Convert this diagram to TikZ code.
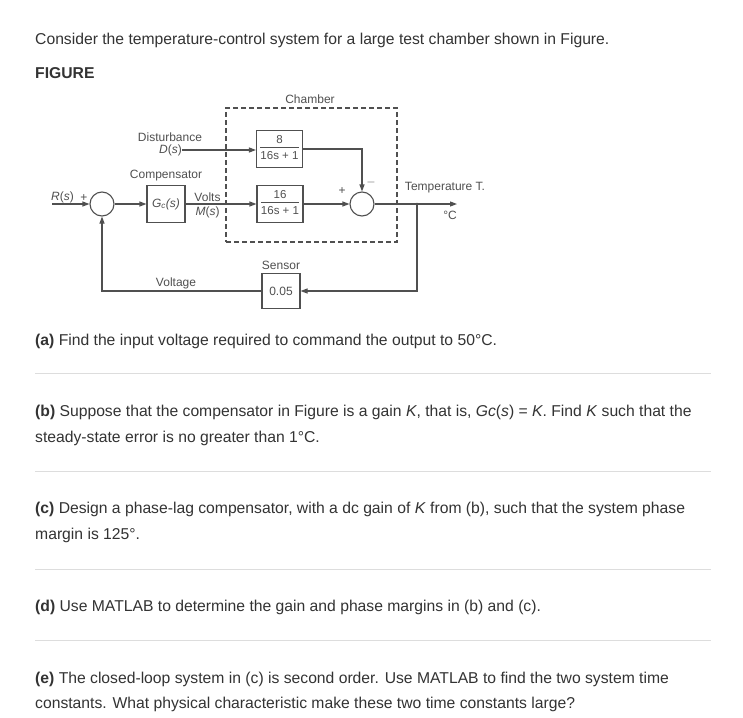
\documentclass[tikz,border=0pt]{standalone}
\usepackage{fontspec}
\setmainfont{Liberation Sans}
\usetikzlibrary{arrows.meta}
\definecolor{txt}{HTML}{333333}
\definecolor{dg}{HTML}{505050}
\definecolor{sepc}{HTML}{DDDDDD}
\begin{document}
\begin{tikzpicture}[x=1pt,y=-1pt,
  body/.style={anchor=base west, inner sep=0, font=\fontsize{15.7}{18}\selectfont, text=txt},
  lbl/.style={inner sep=0, font=\fontsize{12}{14}\selectfont, text=dg},
  blk/.style={draw=dg, line width=1.1pt, minimum width=46pt, minimum height=37pt, inner sep=0, font=\fontsize{11.5}{13}\selectfont, text=dg},
  sj/.style={circle, draw=dg, line width=1.1pt, minimum size=24pt, inner sep=0},
  sig/.style={draw=dg, line width=1.1pt},
  arr/.style={sig, -{Triangle[length=7pt,width=5pt]}},
  sepline/.style={draw=sepc, line width=1pt},
  chbox/.style={draw=dg, line width=1.1pt, dash pattern=on 5pt off 3pt}
]
\useasboundingbox (0,0) rectangle (743,717);
\fill[white] (0,0) rectangle (743,717);

% ---- text ----
\node[body] (t1) at (35,45) {Consider the temperature-control system for a large test chamber shown in Figure.};
\node[body] (t2) at (35,78) {\bfseries FIGURE};
\node[body] (ta) at (35,345) {\textbf{(a)} Find the input voltage required to command the output to 50°C.};
\node[body] (tb1) at (35,416) {\textbf{(b)} Suppose that the compensator in Figure is a gain \textit{K}, that is, \textit{Gc}(\textit{s}) = \textit{K}. Find \textit{K} such that the};
\node[body] (tb2) at (35,442) {steady-state error is no greater than 1°C.};
\node[body] (tc1) at (35,513) {\textbf{(c)} Design a phase-lag compensator, with a dc gain of \textit{K} from (b), such that the system phase};
\node[body] (tc2) at (35,539) {margin is 125°.};
\node[body] (td) at (35,611) {\textbf{(d)} Use MATLAB to determine the gain and phase margins in (b) and (c).};
\node[body] (te1) at (35,683) {\textbf{(e)} The closed-loop system in (c) is second order. Use MATLAB to find the two system time};
\node[body] (te2) at (35,708) {constants. What physical characteristic make these two time constants large?};

\draw[sepline] (35,373) -- (711,373);
\draw[sepline] (35,471) -- (711,471);
\draw[sepline] (35,569) -- (711,569);
\draw[sepline] (35,640) -- (711,640);

% ---- diagram ----
\node[chbox, minimum width=171pt, minimum height=134pt, inner sep=0] (chamber) at (311.5,175) {};
\node[lbl] (chl) at (310,99) {Chamber};

\node[lbl] (dist) at (170,137.5) {Disturbance};
\node[lbl, anchor=east] (ds) at (182,150) {\textit{D}(\textit{s})};
\node[blk] (g8) at (279.5,149) {\begin{tabular}{@{}c@{}}8\\[0pt]\hline\rule{0pt}{12pt}16s + 1\end{tabular}};

\node[sj] (s1) at (102,204) {};
\node[lbl] (rs) at (62.5,197) {\textit{R}(\textit{s})};
\coordinate (rin) at (52,204);
\node[lbl] (p1) at (84,198) {+};

\node[lbl] (comp) at (166,176) {Compensator};
\node[blk, minimum width=38pt, font=\fontsize{12}{13}\selectfont] (gc) at (166,204) {\itshape G\textsubscript{c}(s)};
\node[lbl] (volts) at (207.5,197) {Volts};
\node[lbl] (ms) at (207.5,212) {\textit{M}(\textit{s})};

\node[blk] (g16) at (280,204) {\begin{tabular}{@{}c@{}}16\\[0pt]\hline\rule{0pt}{12pt}16s + 1\end{tabular}};

\node[sj] (s2) at (362,204) {};
\node[lbl] (p2) at (342,191) {+};
\node[lbl] (m2) at (371,182) {$-$};

\coordinate (br) at (417,204);
\coordinate (out) at (457,204);
\node[lbl] (temp) at (445,188) {Temperature T.};
\node[lbl] (degc) at (450,215) {°C};

\node[lbl] (senl) at (281,265) {Sensor};
\node[blk, minimum width=38pt, minimum height=35pt, font=\fontsize{12}{13}\selectfont] (sen) at (281,291) {0.05};
\node[lbl] (volt) at (176,283) {Voltage};

% connectors
\draw[arr] (rin) -- (s1.west);
\draw[arr] (s1.east) -- (gc.west);
\draw[arr] (gc.east) -- (g16.west);
\draw[arr] (g16.east) -- (s2.west);
\draw[arr] (ds.east) -- (ds.east -| g8.west);
\draw[arr] (g8.east) -| (s2.north);
\draw[arr] (s2.east) -- (out);
\fill[dg] (br) circle (1.3pt);
\draw[arr] (br) |- (sen.east);
\draw[arr] (sen.west) -| (s1.south);
\end{tikzpicture}
\end{document}
